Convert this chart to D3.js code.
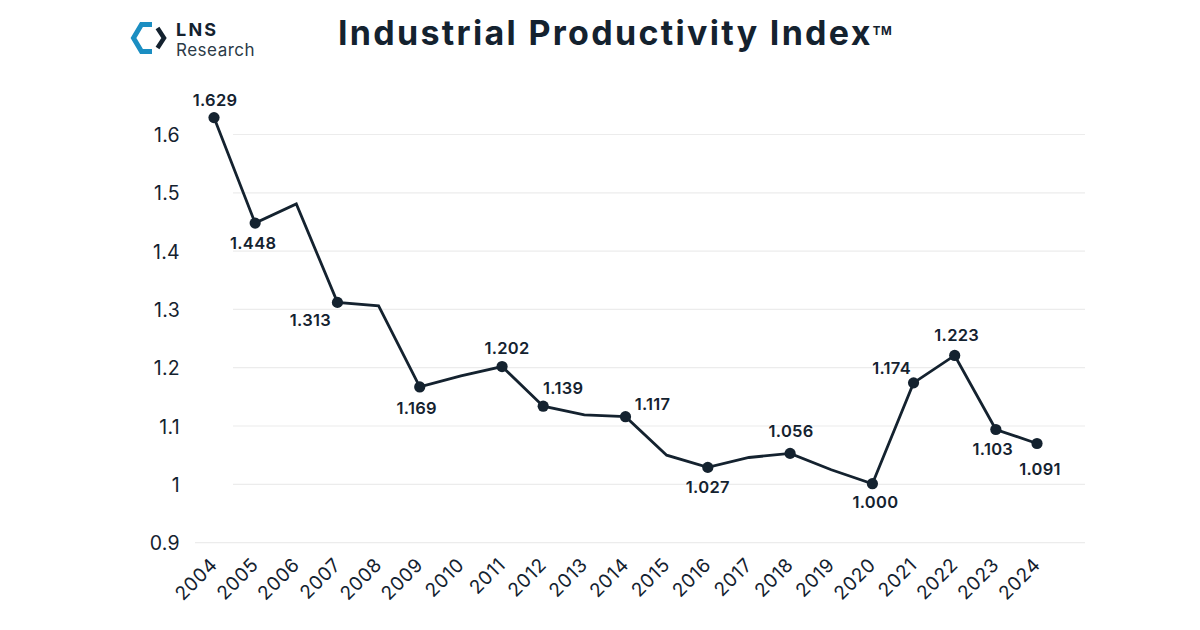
<!DOCTYPE html>
<html>
<head>
<meta charset="utf-8">
<script src="https://cdn.jsdelivr.net/npm/d3@7"></script>
<style>
  body { margin: 0; background: #fff; }
  svg { display: block; font-family: Inter, "Noto Sans", sans-serif; }
</style>
</head>
<body>
<div id="chart"></div>
<script>
// data
let years = [2004, 2005, 2006, 2007, 2008, 2009, 2010, 2011, 2012, 2013, 2014,
             2015, 2016, 2017, 2018, 2019, 2020, 2021, 2022, 2023, 2024];
let values = [1.629, 1.448, 1.481, 1.312, 1.306, 1.167, 1.186, 1.202, 1.134, 1.119, 1.116,
              1.050, 1.029, 1.046, 1.053, 1.025, 1.001, 1.174, 1.221, 1.094, 1.070];
// printed labels ("" = no marker, no label)
let labels = ["1.629", "1.448", "", "1.313", "", "1.169", "", "1.202", "1.139", "", "1.117",
              "", "1.027", "", "1.056", "", "1.000", "1.174", "1.223", "1.103", "1.091"];
let yTicks = [0.9, 1, 1.1, 1.2, 1.3, 1.4, 1.5, 1.6];

let W = 1200, H = 630;
let ink = '#14222f';

// where each label sits relative to its dot
let labelOffset = {
  2004: [1, -12], 2005: [-2, 26], 2007: [-27, 24], 2009: [-3, 27],
  2011: [5, -13], 2012: [20, -12], 2014: [27, -7], 2016: [0, 26],
  2018: [1, -16], 2020: [3, 24], 2021: [-22, -9], 2022: [2, -14],
  2023: [-3, 26], 2024: [3, 32]
};

let svg = d3.select('#chart')
  .append('svg')
    .attr('width', W)
    .attr('height', H)
;

let x = d3.scaleLinear()
  .domain([2004, 2024])
  .range([214, 1037]);

let y = d3.scaleLinear()
  .domain([0.9, 1.6])
  .range([542.6, 134.5]);

// gridlines
svg.selectAll('.grid').data(yTicks).enter()
  .append('line')
    .attr('class', 'grid')
    .attr('x1', function(d){ return d == 0.9 ? 195 : 233; })
    .attr('x2', 1085)
    .attr('y1', function(d){ return y(d); })
    .attr('y2', function(d){ return y(d); })
    .attr('stroke', '#ececec')
    .attr('stroke-width', 1.2)
;

// y axis labels
let yAxis = svg.append('g')
  .attr('transform', 'translate(180,0)')
  .call(d3.axisLeft(y).tickValues(yTicks).tickSize(0).tickPadding(0)
        .tickFormat(function(d){ return String(+d.toFixed(1)); }));
yAxis.select('.domain').remove();
yAxis.selectAll('text')
  .attr('fill', ink)
  .attr('font-size', 19.5)
  .attr('font-family', 'Inter, sans-serif')
  .attr('letter-spacing', 0.3)
  .attr('dy', '0.36em');

// x axis labels, rotated
let xAxis = svg.append('g')
  .attr('transform', 'translate(4,566)')
  .call(d3.axisBottom(x).tickValues(years).tickSize(0).tickPadding(0)
        .tickFormat(d3.format('d')));
xAxis.select('.domain').remove();
xAxis.selectAll('text')
  .attr('fill', ink)
  .attr('font-size', 19)
  .attr('letter-spacing', 0.6)
  .attr('font-family', 'Inter, sans-serif')
  .attr('text-anchor', 'end')
  .attr('dy', 0)
  .attr('y', 0)
  .attr('transform', 'rotate(-45)');

// the line
let pts = years.map(function(yr, i){ return { year: yr, v: values[i], label: labels[i] }; });

svg.append('path')
  .datum(pts)
  .attr('fill', 'none')
  .attr('stroke', ink)
  .attr('stroke-width', 2.8)
  .attr('stroke-linejoin', 'miter')
  .attr('d', d3.line()
    .x(function(d){ return x(d.year); })
    .y(function(d){ return y(d.v); }));

let marked = pts.filter(function(d){ return d.label != ''; });

svg.selectAll('.dot').data(marked).enter()
  .append('circle')
    .attr('class', 'dot')
    .attr('cx', function(d){ return x(d.year); })
    .attr('cy', function(d){ return y(d.v); })
    .attr('r', 5.6)
    .attr('fill', ink)
;

svg.selectAll('.vlabel').data(marked).enter()
  .append('text')
    .attr('class', 'vlabel')
    .attr('x', function(d){ return x(d.year) + labelOffset[d.year][0]; })
    .attr('y', function(d){ return y(d.v) + labelOffset[d.year][1]; })
    .attr('text-anchor', 'middle')
    .attr('font-size', 16.5)
    .attr('font-weight', 600)
    .attr('letter-spacing', 0.3)
    .attr('fill', ink)
    .text(function(d){ return d.label; })
;

// title
let title = svg.append('text')
  .attr('x', 338)
  .attr('y', 45)
  .attr('font-size', 34)
  .attr('font-weight', 700)
  .attr('letter-spacing', 2.3)
  .attr('fill', ink)
  .text('Industrial Productivity Index');
title.append('tspan')
  .attr('font-size', 11.5)
  .attr('letter-spacing', 0.5)
  .attr('dy', -10)
  .attr('dx', 0)
  .text('TM');

// logo
let logo = svg.append('g');
logo.append('path')
  .attr('d', 'M152,24.5 L141.5,24.5 L133.5,38 L141.5,51.5 L152,51.5')
  .attr('fill', 'none')
  .attr('stroke', '#1b8ec2')
  .attr('stroke-width', 5)
  .attr('stroke-linejoin', 'miter');
logo.append('path')
  .attr('d', 'M157.5,28 L164,38 L157.5,48')
  .attr('fill', 'none')
  .attr('stroke', ink)
  .attr('stroke-width', 4.5);
logo.append('text')
  .attr('x', 176)
  .attr('y', 36)
  .attr('font-size', 18)
  .attr('font-weight', 700)
  .attr('letter-spacing', 2.2)
  .attr('fill', ink)
  .text('LNS');
logo.append('text')
  .attr('x', 176)
  .attr('y', 56)
  .attr('font-size', 17)
  .attr('font-weight', 400)
  .attr('letter-spacing', 0.5)
  .attr('fill', '#2b3a47')
  .text('Research');
</script>
</body>
</html>
